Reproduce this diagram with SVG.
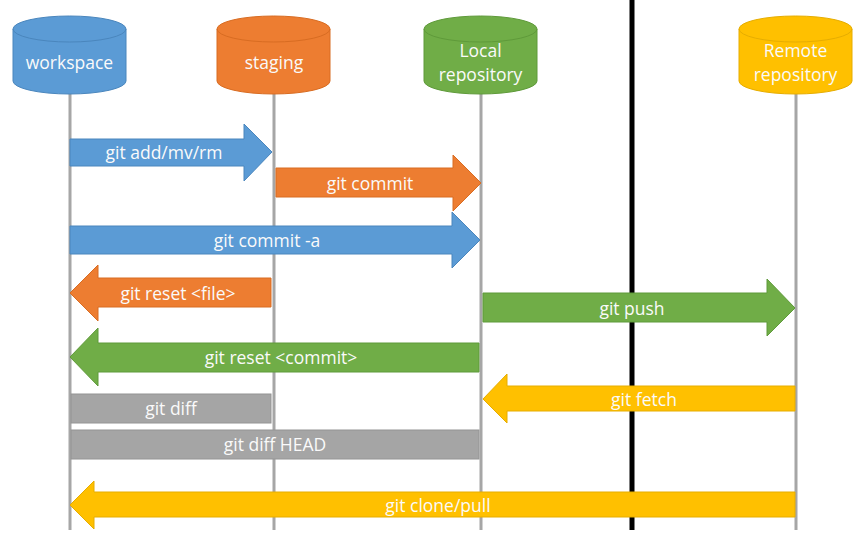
<svg xmlns="http://www.w3.org/2000/svg" width="856" height="537" viewBox="0 0 856 537">
<style>
.life{stroke:#a6a6a6;stroke-width:3;fill:none}
.lbl{font-family:"Open Sans","Noto Sans","Liberation Sans",sans-serif;font-size:17.5px;fill:#fafafa;text-anchor:middle;dominant-baseline:central}
.blue{fill:#5b9bd5;stroke:#4a86bd;stroke-width:1}
.orange{fill:#ed7d31;stroke:#d86c22;stroke-width:1}
.green{fill:#70ad47;stroke:#5f9a3a;stroke-width:1}
.yellow{fill:#ffc000;stroke:#e6ad00;stroke-width:1}
.gray{fill:#a5a5a5;stroke:#949494;stroke-width:1}
</style>
<rect width="856" height="537" fill="#fff"/>
<g id="lifelines">
<line class="life" x1="70" y1="92" x2="70" y2="530"/>
<line class="life" x1="274" y1="92" x2="274" y2="530"/>
<line class="life" x1="481" y1="92" x2="481" y2="530"/>
<line class="life" x1="796" y1="92" x2="796" y2="530"/>
<line x1="632" y1="0" x2="632" y2="530" stroke="#000" stroke-width="5"/>
</g>
<g id="workspace">
<path class="blue" d="M13,29 V81 A56.5,13 0 0 0 126,81 V29 A56.5,13 0 0 0 13,29 Z"/>
<path d="M13,29 A56.5,13 0 0 0 126,29" fill="none" stroke="#4a86bd" stroke-width="1"/>
<text class="lbl" x="69.5" y="62">workspace</text>
</g>
<g id="staging">
<path class="orange" d="M217,29 V81 A56.5,13 0 0 0 330,81 V29 A56.5,13 0 0 0 217,29 Z"/>
<path d="M217,29 A56.5,13 0 0 0 330,29" fill="none" stroke="#d86c22" stroke-width="1"/>
<text class="lbl" x="274" y="62">staging</text>
</g>
<g id="local">
<path class="green" d="M424,29 V81 A56.5,13 0 0 0 537,81 V29 A56.5,13 0 0 0 424,29 Z"/>
<path d="M424,29 A56.5,13 0 0 0 537,29" fill="none" stroke="#5f9a3a" stroke-width="1"/>
<text class="lbl" x="480.5" y="50">Local</text>
<text class="lbl" x="480.5" y="74">repository</text>
</g>
<g id="remote">
<path class="yellow" d="M739,29 V81 A56.5,13 0 0 0 852,81 V29 A56.5,13 0 0 0 739,29 Z"/>
<path d="M739,29 A56.5,13 0 0 0 852,29" fill="none" stroke="#e6ad00" stroke-width="1"/>
<text class="lbl" x="795.5" y="50">Remote</text>
<text class="lbl" x="795.5" y="74">repository</text>
</g>
<g id="connectors">
<g id="add">
<polygon class="blue" points="70,139 244,139 244,124 272,152 244,181 244,166 70,166"/>
<text class="lbl" x="164" y="152">git add/mv/rm</text>
</g>
<g id="commit">
<polygon class="orange" points="276,168 453,168 453,155 481,183 453,211 453,197 276,197"/>
<text class="lbl" x="370" y="183">git commit</text>
</g>
<g id="commit-a">
<polygon class="blue" points="70,226 452,226 452,212 480,240 452,268 452,254 70,254"/>
<text class="lbl" x="267" y="240">git commit -a</text>
</g>
<g id="reset-file">
<polygon class="orange" points="271,278 98,278 98,265 70,293 98,321 98,307 271,307"/>
<text class="lbl" x="178" y="293">git reset &lt;file&gt;</text>
</g>
<g id="push">
<polygon class="green" points="483,293 767,293 767,279 795,308 767,336 767,322 483,322"/>
<text class="lbl" x="632" y="308">git push</text>
</g>
<g id="reset-commit">
<polygon class="green" points="479,343 98,343 98,328 70,357 98,386 98,372 479,372"/>
<text class="lbl" x="281" y="357">git reset &lt;commit&gt;</text>
</g>
<g id="fetch">
<polygon class="yellow" points="795,386 507,386 507,374 483,399 507,423 507,411 795,411"/>
<text class="lbl" x="644" y="399">git fetch</text>
</g>
<g id="diff">
<rect class="gray" x="71" y="394" width="200" height="29"/>
<text class="lbl" x="171" y="408">git diff</text>
</g>
<g id="diff-head">
<rect class="gray" x="71" y="430" width="408" height="29"/>
<text class="lbl" x="275" y="444">git diff HEAD</text>
</g>
<g id="clone-pull">
<polygon class="yellow" points="795,492 94,492 94,481 70,505 94,529 94,517 795,517"/>
<text class="lbl" x="438" y="505">git clone/pull</text>
</g>
</g>
</svg>
